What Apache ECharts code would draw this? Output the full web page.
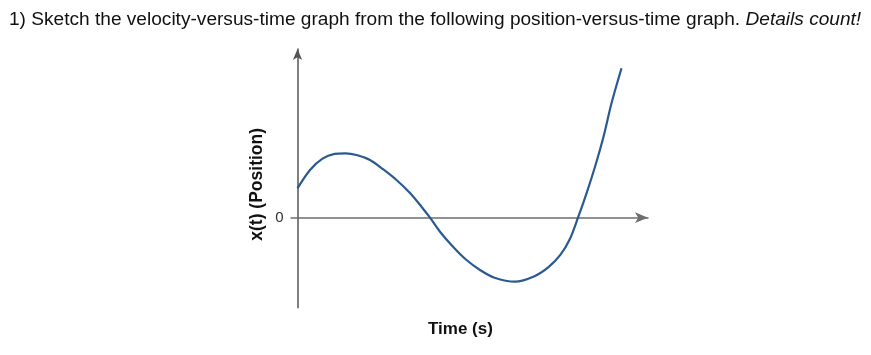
<!DOCTYPE html>
<html><head><meta charset="utf-8">
<script src="https://cdn.jsdelivr.net/npm/echarts@6/dist/echarts.min.js"></script>
<style>html,body{margin:0;padding:0;background:#fff}#c{width:871px;height:355px}</style>
</head><body><div id="c"></div>
<script>
// time (arbitrary units) and position values
var times = [0, 12.5, 25, 37, 48, 60, 72.5, 85.5, 99, 112.5, 124, 132.5, 142.5, 155.5, 169, 182.5, 197, 217.5, 237, 251, 263, 272.5, 280.5, 289, 297.5, 306, 314, 324];
var positions = [29.4, 47.7, 59, 63.8, 64.4, 62.4, 57.7, 48.5, 37.7, 24.7, 11, 0, -14, -29, -42.3, -52.3, -60, -64, -58.5, -49.5, -37, -21, 0, 24.4, 51, 81, 114.4, 149.4];
var yTickValues = [0];
var titleMain = '1) Sketch the velocity-versus-time graph from the following position-versus-time graph. ';
var titleItalic = 'Details count!';
var xName = 'Time (s)';
var yName = 'x(t) (Position)';

var data = times.map(function (t, i) { return [t, positions[i]]; });
var chart = echarts.init(document.getElementById('c'), null, {renderer: 'canvas'});
chart.setOption({
  animation: false,
  title: {
    text: '{n|' + titleMain + '}{i|' + titleItalic + '}',
    left: 4, top: 5,
    textStyle: {
      fontWeight: 'normal',
      rich: {
        n: {fontFamily: 'Liberation Sans', fontSize: 19.1, fontWeight: 'normal', color: '#111'},
        i: {fontFamily: 'Liberation Sans', fontSize: 19.1, fontWeight: 'normal', fontStyle: 'italic', color: '#111'}
      }
    }
  },
  grid: {left: 297.5, right: 223, top: 49, bottom: 47.3, containLabel: false, outerBoundsMode: 'none'},
  graphic: [{
    type: 'text', left: 428, top: 321,
    style: {text: xName, fontFamily: 'Liberation Sans', fontSize: 17, fontWeight: 'bold', fill: '#111'}
  }],
  xAxis: {
    type: 'value', min: 0, max: 350.5,
    axisLine: {onZero: true, symbol: ['none', 'arrow'], symbolSize: [8, 13], lineStyle: {color: '#6e6e6e', width: 1.5}},
    axisTick: {show: false}, axisLabel: {show: false}, splitLine: {show: false}
  },
  yAxis: {
    type: 'value', min: -90, max: 168.7,
    name: yName, nameLocation: 'middle', nameGap: 31, nameRotate: 90,
    nameTextStyle: {fontFamily: 'Liberation Sans', fontSize: 17.5, fontWeight: 'bold', color: '#111', padding: [0, 12, 0, 0]},
    axisLine: {symbol: ['none', 'arrow'], symbolSize: [7, 11], lineStyle: {color: '#555', width: 1.5}},
    axisTick: {show: true, length: 7, customValues: yTickValues, lineStyle: {color: '#6e6e6e', width: 1.5}},
    axisLabel: {show: true, customValues: yTickValues, margin: 14, fontFamily: 'Liberation Sans', fontSize: 15, color: '#333'},
    splitLine: {show: false}
  },
  series: [{
    type: 'line', data: data, smooth: 0.3, showSymbol: false,
    lineStyle: {color: '#2a5a8f', width: 2.2}
  }]
});
</script></body></html>
